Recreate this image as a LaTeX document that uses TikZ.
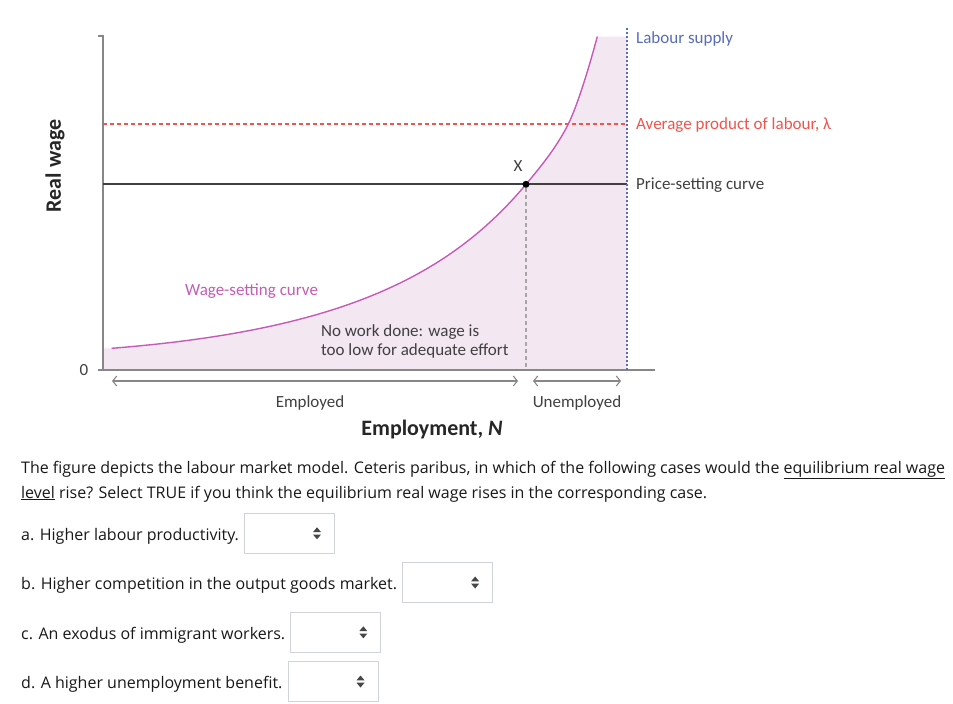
\documentclass[tikz,border=0pt]{standalone}
\usepackage{fontspec}
\setmainfont{Open Sans}
\newfontfamily\corefont{Carlito}
\usetikzlibrary{arrows.meta,positioning}

\definecolor{wagepink}{RGB}{196,92,180}
\definecolor{shadepink}{RGB}{243,231,242}
\definecolor{avgred}{RGB}{240,84,76}
\definecolor{supplyblue}{RGB}{88,108,190}
\definecolor{axisgray}{RGB}{135,135,135}
\definecolor{boxgray}{RGB}{206,212,218}
\definecolor{labelgray}{RGB}{64,64,64}
\definecolor{spinnergray}{RGB}{70,70,70}

\tikzset{
  core label/.style={font=\corefont\fontsize{17}{20}\selectfont, inner sep=0pt, text=labelgray},
  core title/.style={font=\corefont\bfseries\fontsize{22}{26}\selectfont, inner sep=0pt, text=black!85},
  question text/.style={font=\fontsize{16}{19}\selectfont, inner sep=0pt, anchor=base west, text=black!90},
  select box/.style={draw=boxgray, line width=0.9pt, minimum width=90pt, minimum height=40pt, inner sep=0pt},
  range arrow/.style={axisgray, line width=1.1pt, {Straight Barb[length=4pt,width=10pt]}-{Straight Barb[length=4pt,width=10pt]}},
}

% small up/down arrows of a drop-down box
\newcommand{\spinner}[1]{
  \fill[spinnergray] ([xshift=-4pt,yshift=1.2pt]#1) -- ([xshift=4pt,yshift=1.2pt]#1) -- ([yshift=6pt]#1) -- cycle;
  \fill[spinnergray] ([xshift=-4pt,yshift=-1.2pt]#1) -- ([xshift=4pt,yshift=-1.2pt]#1) -- ([yshift=-6pt]#1) -- cycle;
}

\begin{document}
\begin{tikzpicture}[x=1pt,y=-1pt]

\useasboundingbox[fill=white] (0,0) rectangle (953,704);

\coordinate (origin) at (103,370);
\coordinate (y-axis-top) at (103,36);
\coordinate (y-tick-left) at (98,36);
\coordinate (x-axis-left) at (98,370);
\coordinate (x-axis-right) at (655,370);
\coordinate (avg-left) at (103,124);
\coordinate (avg-right) at (627,124);
\coordinate (price-left) at (103,184);
\coordinate (price-right) at (627,184);
\coordinate (supply-top) at (627,28);
\coordinate (supply-bottom) at (627,372);
\coordinate (x-foot) at (526,370);
\coordinate (wage-start) at (111.7,348.3);
\coordinate (wage-mid) at (568.3,124);
\coordinate (wage-end) at (597.3,36.5);

% area below the wage-setting curve
\fill[shadepink] (origin) -- (103,348.3) -- (wage-start)
  .. controls (330,330.9) and (445,281.5) .. (526,184.3)
  .. controls (540,167.5) and (556.3,148) .. (wage-mid)
  .. controls (578.3,104) and (591.3,59.3) .. (wage-end)
  -- (627,36.5) -- (supply-bottom |- origin) -- cycle;

% axes
\draw[axisgray, line width=1.4pt] (y-tick-left) -- (y-axis-top) -- (origin);
\draw[axisgray, line width=1.4pt] (x-axis-left) -- (x-axis-right);

\draw[avgred, line width=1.2pt, dash pattern=on 4pt off 3pt] (avg-left) -- (avg-right);
\draw[black!75, line width=1.2pt] (price-left) -- (price-right);
\draw[supplyblue, line width=1.6pt, dash pattern=on 1.6pt off 2.4pt] (supply-top) -- (supply-bottom);

\draw[wagepink, line width=1.4pt] (wage-start)
  .. controls (330,330.9) and (445,281.5) .. (526,184.3)
  .. controls (540,167.5) and (556.3,148) .. (wage-mid)
  .. controls (578.3,104) and (591.3,59.3) .. (wage-end);

\node[circle, fill=black, inner sep=0pt, minimum size=7pt] (x-point) at (526,184.3) {};
\draw[black!35, line width=1.1pt, dash pattern=on 4pt off 3pt] (x-point) -- (x-foot);

% labels on the chart
\node[core label, anchor=base] (x-label) at (518,171) {X};
\node[core label, anchor=base] (zero-label) at (84,375) {0};
\node[core label, anchor=base west, text=supplyblue] (supply-label) at (636,43) {Labour supply};
\node[core label, anchor=base west, text=avgred] (avg-label) at (636,129) {Average product of labour, λ};
\node[core label, anchor=base west] (price-label) at (636,189) {Price-setting curve};
\node[core label, anchor=base west, text=wagepink] (wage-label) at (185,295) {Wage-setting curve};
\node[core label, anchor=base west] (no-work-label) at (321,336) {No work done: wage is};
\node[core label, anchor=base west] (no-work-label-2) at (321,355) {too low for adequate effort};
\node[core title, rotate=90] (real-wage-label) at (55,166) {Real wage};
\node[core title, anchor=base] (employment-label) at (432,435) {Employment, \textit{N}};

\coordinate (employed-left) at (112,381);
\coordinate (employed-right) at (518,381);
\coordinate (unemployed-left) at (533,381);
\coordinate (unemployed-right) at (621,381);
\draw[range arrow] (employed-left) -- (employed-right);
\draw[range arrow] (unemployed-left) -- (unemployed-right);
\node[core label, anchor=base] (employed-label) at (310,407) {Employed};
\node[core label, anchor=base] (unemployed-label) at (577,407) {Unemployed};

% question
\node[question text] (intro-1) at (21,473) {The figure depicts the labour market model. Ceteris paribus, in which of the following cases would the \underline{equilibrium real wage}};
\node[question text] (intro-2) at (21,498) {\underline{level} rise? Select TRUE if you think the equilibrium real wage rises in the corresponding case.};

\node[question text] (case-a) at (21,540) {a. Higher labour productivity.};
\node[question text] (case-b) at (21,589) {b. Higher competition in the output goods market.};
\node[question text] (case-c) at (21,639) {c. An exodus of immigrant workers.};
\node[question text] (case-d) at (21,688) {d. A higher unemployment benefit.};

\node[select box, anchor=west] (box-a) at ([xshift=5pt]case-a.east |- 0,533.3) {};
\node[select box, anchor=west] (box-b) at ([xshift=5pt]case-b.east |- 0,582.5) {};
\node[select box, anchor=west] (box-c) at ([xshift=5pt]case-c.east |- 0,632.3) {};
\node[select box, anchor=west] (box-d) at ([xshift=5pt]case-d.east |- 0,681.5) {};

\coordinate (spin-a) at ([xshift=-18pt]box-a.east);
\coordinate (spin-b) at ([xshift=-18pt]box-b.east);
\coordinate (spin-c) at ([xshift=-18pt]box-c.east);
\coordinate (spin-d) at ([xshift=-18pt]box-d.east);
\spinner{spin-a}
\spinner{spin-b}
\spinner{spin-c}
\spinner{spin-d}

\end{tikzpicture}
\end{document}
